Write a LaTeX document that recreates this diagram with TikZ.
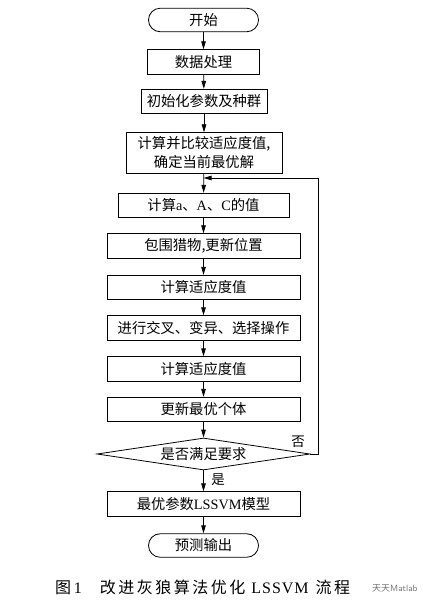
\documentclass[tikz,border=0pt]{standalone}
\usepackage{fontspec}
\setmainfont{Liberation Serif}
\newfontfamily\cjk{Noto Sans CJK SC}
\usetikzlibrary{arrows.meta,shapes.geometric}
\begin{document}
\begin{tikzpicture}[x=1pt,y=-1pt,
  every node/.style={font=\fontsize{14.3}{19}\selectfont\cjk, inner sep=0pt},
  box/.style={draw, line width=0.8pt, minimum height=24.5pt},
  term/.style={draw, line width=0.8pt, minimum width=110pt, minimum height=23.5pt, rounded corners=11.7pt},
  arr/.style={line width=0.8pt, -{Triangle[length=8pt,width=4.5pt]}},
  lbl/.style={font=\fontsize{13.5}{15}\selectfont\cjk}
]
\useasboundingbox (0,0) rectangle (436,609);
\node[term] (s) at (203.5,20) {开始};
\node[box, minimum width=112pt] (b1) at (203.5,62) {数据处理};
\node[box, minimum width=126pt] (b2) at (204,101.5) {初始化参数及种群};
\node[box, minimum width=156pt, minimum height=40.5pt, align=center] (b3) at (204,153) {计算并比较适应度值,\\确定当前最优解};
\node[box, minimum width=171pt] (b4) at (203.5,205.5) {计算{\rmfamily a}、{\rmfamily A}、{\rmfamily C}的值};
\node[box, minimum width=193pt] (b5) at (203.5,246) {包围猎物,更新位置};
\node[box, minimum width=193pt] (b6) at (203.5,287.5) {计算适应度值};
\node[box, minimum width=193pt] (b7) at (203.5,328) {进行交叉、变异、选择操作};
\node[box, minimum width=193pt] (b8) at (203.5,369) {计算适应度值};
\node[box, minimum width=193pt] (b9) at (203.5,409.5) {更新最优个体};
\node[draw, line width=0.8pt, shape=diamond, aspect=6.6, minimum width=213pt, minimum height=32pt] (d) at (203.5,454) {是否满足要求};
\node[box, minimum width=193pt] (b10) at (203.5,504) {最优参数{\rmfamily LSSVM}模型};
\node[term] (e) at (203.5,545.5) {预测输出};
\coordinate (j) at (203.5,178);
\coordinate (c1) at (318,454);
\coordinate (c2) at (318,178);
\node[lbl] (no) at (298,442) {否};
\node[lbl] (yes) at (218,480) {是};
\draw[arr] (s) -- (b1);
\draw[arr] (b1) -- (b2);
\draw[arr] (b2) -- (b3);
\draw[arr] (b3) -- (b4);
\draw[arr] (b4) -- (b5);
\draw[arr] (b5) -- (b6);
\draw[arr] (b6) -- (b7);
\draw[arr] (b7) -- (b8);
\draw[arr] (b8) -- (b9);
\draw[arr] (b9) -- (d);
\draw[arr] (d) -- (b10);
\draw[arr] (b10) -- (e);
\draw[arr] (d.east) -- (c1) -- (c2) -- (j);
\node[anchor=west, font=\fontsize{16}{18}\selectfont\cjk] (cap) at (55,587) {图{\rmfamily\,1}\hspace{18pt}改\kern2.5pt 进\kern2.5pt 灰\kern2.5pt 狼\kern2.5pt 算\kern2.5pt 法\kern2.5pt 优\kern2.5pt 化\kern6pt{\rmfamily L\kern1pt S\kern1pt S\kern1pt V\kern1pt M}\kern7pt 流\kern2.5pt 程};
\node[anchor=west, font=\fontsize{9}{10}\selectfont\sffamily, text=black!55] (wm) at (372,588) {{\cjk 天天}Matlab};
\end{tikzpicture}
\end{document}
